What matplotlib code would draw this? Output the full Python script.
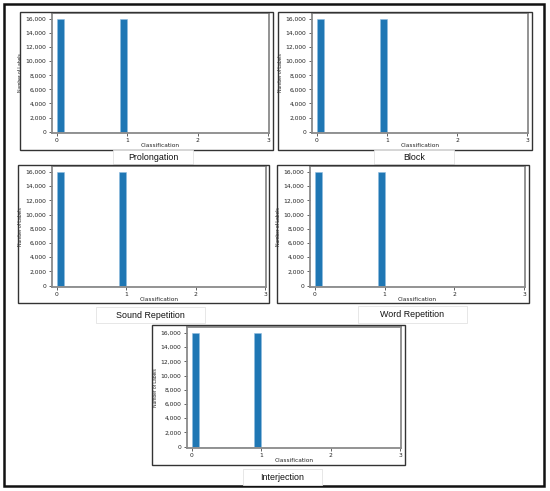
import matplotlib
matplotlib.use("Agg")
import matplotlib.pyplot as plt
from matplotlib.patches import Rectangle
from matplotlib.ticker import FuncFormatter
import numpy as np

# ---- data ----
categories = ["Prolongation", "Block", "Sound Repetition", "Word Repetition", "Interjection"]
classes = [0, 1]
prolongation_counts = [16040, 16030]
block_counts = [16040, 16030]
sound_rep_counts = [16040, 16030]
word_rep_counts = [16040, 16030]
interjection_counts = [16040, 16030]
all_counts = [prolongation_counts, block_counts, sound_rep_counts, word_rep_counts, interjection_counts]
x_ticks = [0, 1, 2, 3]
y_ticks = [0, 2000, 4000, 6000, 8000, 10000, 12000, 14000, 16000]

W, H = 550, 491
fig = plt.figure(figsize=(W / 100, H / 100), dpi=100)
fig.patch.set_facecolor("white")

def fr(l, t, r, b):
    return [l / W, 1 - b / H, (r - l) / W, (b - t) / H]

# layout (pixels): panel box, axes frame, caption box
panels = [
    dict(box=(20, 12, 273, 150), ax=(52, 13, 269, 133), cap=(113, 150, 193, 164)),
    dict(box=(278, 12, 532, 150), ax=(312, 13, 528, 133), cap=(374, 150, 454, 164)),
    dict(box=(18, 165, 269, 303), ax=(52, 166, 266, 287), cap=(96, 307, 205, 323)),
    dict(box=(277, 165, 529, 303), ax=(310, 166, 525, 287), cap=(358, 306, 467, 323)),
    dict(box=(152, 325, 405, 465), ax=(187, 327, 401, 448), cap=(243, 469, 322, 485)),
]

# outer border
fig.add_artist(Rectangle((4 / W, 1 - 486 / H), 540 / W, 482 / H, transform=fig.transFigure,
                         fill=False, edgecolor="#111111", linewidth=1.8))

for name, counts, p in zip(categories, all_counts, panels):
    l, t, r, b = p["box"]
    fig.add_artist(Rectangle((l / W, 1 - b / H), (r - l) / W, (b - t) / H,
                             transform=fig.transFigure, fill=False,
                             edgecolor="#333333", linewidth=1.0))
    ax = fig.add_axes(fr(*p["ax"]))
    ax.hist(classes, bins=10, range=(0, 1), weights=counts, color="#1f77b4",
            edgecolor="#8fbde0", linewidth=0.4)
    ax.set_xlim(-0.07, 3.01)
    ax.set_ylim(-200, 16850)
    ax.set_xticks(x_ticks)
    ax.set_yticks(y_ticks)
    ax.yaxis.set_major_formatter(FuncFormatter(lambda v, pos: f"{int(v):,}"))
    ax.tick_params(labelsize=4.3, length=2.5, width=0.5, pad=1.5, colors="#222222")
    ax.tick_params(axis="x", pad=1.0)
    for s in ax.spines.values():
        s.set_color("#8a8a8a")
        s.set_linewidth(1.3)
    ax.set_xlabel("Classification", fontsize=4.2, labelpad=0.3, color="#222222")
    ax.set_ylabel("Number of Labels", fontsize=3.5, labelpad=2, color="#222222",
                  family="Liberation Sans")
    cl, ct, cr, cb = p["cap"]
    fig.add_artist(Rectangle((cl / W, 1 - cb / H), (cr - cl) / W, (cb - ct) / H,
                             transform=fig.transFigure, facecolor="white",
                             edgecolor="#e3e3e3", linewidth=0.6))
    fig.text((cl + cr) / 2 / W, 1 - (ct + cb) / 2 / H, name, ha="center", va="center",
             fontsize=6.4, family="Liberation Sans", color="#111111")

fig.savefig("out.png", dpi=100)
